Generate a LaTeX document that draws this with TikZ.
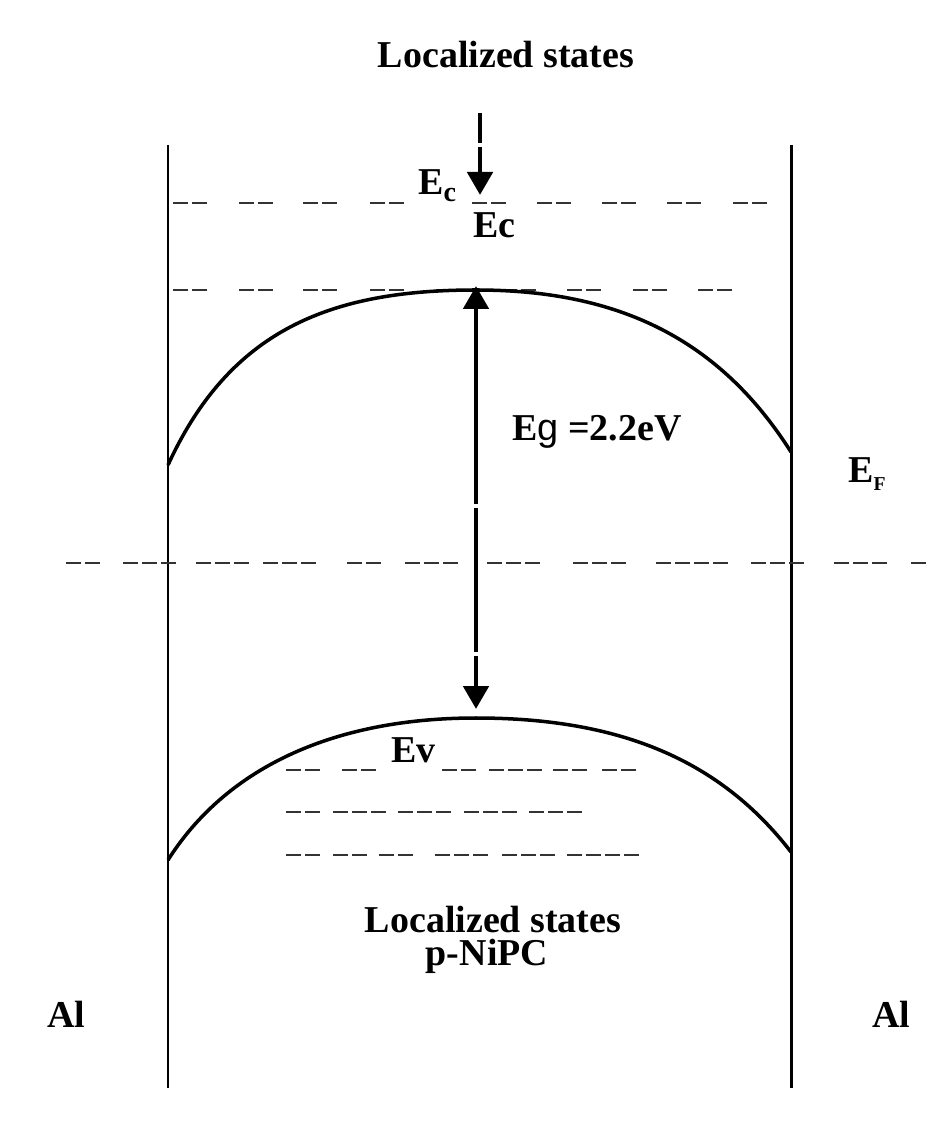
\documentclass[tikz,border=0pt]{standalone}
\usepackage{fontspec}
\setmainfont{Liberation Serif}
\setsansfont{Liberation Sans}
\usetikzlibrary{arrows.meta}
\newcommand{\lowsub}[3]{\raisebox{-#1}{\fontsize{#2}{#2}\selectfont #3}}

\begin{document}
\begin{tikzpicture}[
    x=0.02cm, y=-0.02cm,
    metal/.style={line width=1.7pt},
    band/.style={line width=2pt},
    level/.style={line width=1.1pt, black!80, dash pattern=on 0.3cm off 0.08cm},
    arrow/.style={line width=2.8pt, -{Triangle[length=0.46cm, width=0.5cm]}},
    tag/.style={inner sep=0pt, font=\bfseries\fontsize{21.6}{18.7}\selectfont}
]

    \useasboundingbox (0,0) rectangle (950,1124);

    % Al contacts
    \coordinate (alltop) at (168,145);
    \coordinate (allbot) at (168,1088);
    \coordinate (alrtop) at (791,145);
    \coordinate (alrbot) at (791,1088);
    \draw[metal] (alltop) -- (allbot);
    \draw[metal] (alrtop) -- (alrbot);

    % localized levels
    \foreach \x/\n in {173/2, 239/2, 303/2, 370/2, 472/2, 537/2, 602/2, 667/2, 733/2}
        \draw[level] (\x,203) -- ++({\n*19-4},0);
    \foreach \x/\n in {173/2, 239/2, 303/2, 370/2, 436/2, 502/2, 567/2, 633/2, 698/2}
        \draw[level] (\x,290) -- ++({\n*19-4},0);
    \foreach \x/\n in {66/2, 123/3, 196/3, 263/3, 347/2, 405/3, 487/3, 573/3, 656/4, 751/3, 834/3, 911/1}
        \draw[level] (\x,563) -- ++({\n*19-4},0);
    \foreach \x/\n in {286/2, 342/2, 442/2, 489/3, 553/2, 602/2}
        \draw[level] (\x,770) -- ++({\n*19-4},0);
    \foreach \x/\n in {286/2, 333/3, 398/3, 464/3, 529/3}
        \draw[level] (\x,812) -- ++({\n*19-4},0);
    \foreach \x/\n in {286/2, 333/2, 379/2, 435/3, 502/3, 567/4}
        \draw[level] (\x,855) -- ++({\n*19-4},0);

    % bands
    \coordinate (cbl) at (168,465);
    \coordinate (cbtop) at (476,290);
    \coordinate (cbr) at (791,452);
    \coordinate (vbl) at (168,860);
    \coordinate (vbtop) at (476,718);
    \coordinate (vbr) at (791,852);
    \draw[band] (cbl) .. controls (230,330) and (330,290) .. (cbtop)
        .. controls (620,290) and (720,340) .. (cbr);
    \draw[band] (vbl) .. controls (225,770) and (330,718) .. (vbtop)
        .. controls (620,718) and (720,760) .. (vbr);

    % arrows
    \coordinate (lsfrom) at (480,113);
    \coordinate (lsto) at (480,195);
    \coordinate (egtop) at (476,286);
    \coordinate (egbot) at (476,709);
    \draw[arrow, dash pattern=on 0.6cm off 0.08cm on 3cm] (lsfrom) -- (lsto);
    \draw[arrow, {Triangle[length=0.46cm, width=0.5cm]}-{Triangle[length=0.46cm, width=0.5cm]},
        dash pattern=on 3.92cm off 0.08cm on 2.88cm off 0.08cm on 5cm] (egtop) -- (egbot);

    % labels
    \node[tag, anchor=base] (loctop) at (506,68) {Localized states};
    \node[tag, anchor=base west] (ecup) at (418,195) {E\lowsub{0.14cm}{16}{c}};
    \node[tag, anchor=base west] (eclow) at (473,238) {Ec};
    \node[tag, anchor=base west] (eg) at (512,440) {E{\sffamily\mdseries g} =2.2eV};
    \node[tag, anchor=base west] (ef) at (848,482) {E\lowsub{0.16cm}{11.2}{F}};
    \node[tag, anchor=base west] (ev) at (391,762) {Ev};
    \node[tag, anchor=base] (locbot) at (493,932) {Localized states};
    \node[tag, anchor=base] (nipc) at (487,965) {p-NiPC};
    \node[tag, anchor=base west] (alleft) at (47,1027) {Al};
    \node[tag, anchor=base west] (alright) at (872,1027) {Al};

\end{tikzpicture}
\end{document}
